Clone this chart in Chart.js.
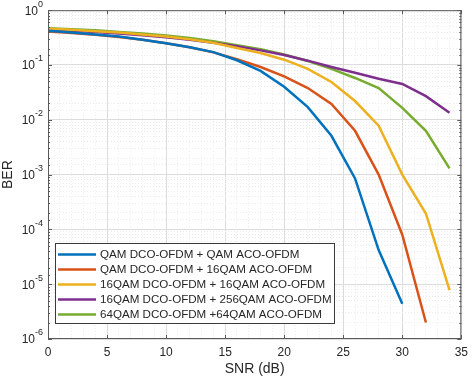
<!DOCTYPE html>
<html>
<head>
<meta charset="utf-8">
<script src="https://cdn.jsdelivr.net/npm/chart.js@4/dist/chart.umd.min.js"></script>
<style>
  html, body { margin: 0; padding: 0; background: #fff; }
  canvas { display: block; }
</style>
</head>
<body>
<canvas id="chart" width="474" height="381"></canvas>
<script>
// SNR sampling points (dB)
const snr = [0, 2, 4, 6, 8, 10, 12, 14, 16, 18, 20, 22, 24, 26, 28, 30, 32, 34];

// BER, one array per curve
const berQamQam      = [0.42, 0.39, 0.36, 0.33, 0.29, 0.25, 0.21, 0.172, 0.122, 0.078, 0.04, 0.017, 0.0051, 8.5e-4, 4.2e-5, 4.4e-6];
const berQam16       = [0.41, 0.385, 0.355, 0.325, 0.29, 0.25, 0.21, 0.17, 0.128, 0.092, 0.062, 0.038, 0.0195, 0.0063, 1.0e-3, 8e-5, 2e-6];
const ber16Qam16     = [0.46, 0.44, 0.415, 0.39, 0.36, 0.33, 0.295, 0.255, 0.205, 0.165, 0.125, 0.085, 0.049, 0.022, 0.0078, 1.0e-3, 1.95e-4, 7.8e-6];
const ber16Qam256    = [0.44, 0.42, 0.4, 0.375, 0.35, 0.32, 0.29, 0.255, 0.22, 0.185, 0.152, 0.12, 0.092, 0.072, 0.056, 0.045, 0.027, 0.0134];
const ber64Qam64     = [0.47, 0.45, 0.43, 0.4, 0.375, 0.345, 0.31, 0.27, 0.23, 0.195, 0.155, 0.118, 0.085, 0.058, 0.038, 0.0165, 0.0063, 1.3e-3];

const seriesNames = [
    'QAM DCO-OFDM + QAM ACO-OFDM',
    'QAM DCO-OFDM + 16QAM ACO-OFDM',
    '16QAM DCO-OFDM + 16QAM ACO-OFDM',
    '16QAM DCO-OFDM + 256QAM ACO-OFDM',
    '64QAM DCO-OFDM +64QAM ACO-OFDM'
];
const seriesColors = ['#0072BD', '#D95319', '#EDB120', '#7E2F8E', '#77AC30'];
const seriesValues = [berQamQam, berQam16, ber16Qam16, ber16Qam256, ber64Qam64];

// axis ticks
const xTicksMajor = [0, 5, 10, 15, 20, 25, 30, 35];
const yTickExps = [0, -1, -2, -3, -4, -5, -6];

const FONT = 'Arial, "Liberation Sans", Helvetica, sans-serif';
const AXIS_COLOR = '#262626';

function toPoints(vals) {
    return vals.map((v, i) => ({ x: snr[i], y: v }));
}

function isDecade(v) {
    const e = Math.log10(v);
    return Math.abs(e - Math.round(e)) < 1e-9;
}

// box, inward ticks, y labels with exponents, legend inside the axes
const decorPlugin = {
    id: 'decor',
    afterDraw(chart) {
        const ctx = chart.ctx;
        const a = chart.chartArea;
        const xs = chart.scales.x, ys = chart.scales.y;
        ctx.save();

        // frame
        ctx.strokeStyle = '#5a5a5a';
        ctx.lineWidth = 1;
        ctx.strokeRect(a.left + 0.5, a.top + 0.5, a.right - a.left - 1, a.bottom - a.top - 1);

        // inward ticks
        ctx.beginPath();
        xTicksMajor.forEach(v => {
            const px = Math.round(xs.getPixelForValue(v)) + 0.5;
            ctx.moveTo(px, a.bottom); ctx.lineTo(px, a.bottom - 4);
            ctx.moveTo(px, a.top); ctx.lineTo(px, a.top + 4);
        });
        ys.ticks.forEach(t => {
            const py = Math.round(ys.getPixelForValue(t.value)) + 0.5;
            const len = isDecade(t.value) ? 4 : 2;
            ctx.moveTo(a.left, py); ctx.lineTo(a.left + len, py);
            ctx.moveTo(a.right, py); ctx.lineTo(a.right - len, py);
        });
        ctx.stroke();

        // y tick labels 10^n
        ctx.fillStyle = AXIS_COLOR;
        ctx.textBaseline = 'middle';
        yTickExps.forEach(e => {
            const py = ys.getPixelForValue(Math.pow(10, e));
            const right = a.left - 5;
            ctx.font = '9px ' + FONT;
            ctx.textAlign = 'left';
            const expTxt = e === 0 ? '0' : '-' + Math.abs(e);
            const ew = ctx.measureText(expTxt).width;
            ctx.fillText(expTxt, right - ew, py - 6);
            ctx.font = '12px ' + FONT;
            ctx.textAlign = 'right';
            ctx.fillText('10', right - ew, py + 1);
        });

        // legend
        const lx = 55, ly = 243, lw = 279, lh = 80;
        ctx.fillStyle = '#fff';
        ctx.fillRect(lx, ly, lw, lh);
        ctx.strokeStyle = '#3a3a3a';
        ctx.lineWidth = 1;
        ctx.strokeRect(lx + 0.5, ly + 0.5, lw, lh);
        ctx.font = '11.6px ' + FONT;
        ctx.textAlign = 'left';
        ctx.textBaseline = 'middle';
        chart.data.datasets.forEach((ds, i) => {
            const ry = ly + 11.5 + i * 15;
            ctx.strokeStyle = ds.borderColor;
            ctx.lineWidth = 2.5;
            ctx.beginPath();
            ctx.moveTo(lx + 3, ry); ctx.lineTo(lx + 41, ry);
            ctx.stroke();
            ctx.fillStyle = AXIS_COLOR;
            ctx.fillText(ds.label, lx + 45, ry + 0.5);
        });

        ctx.restore();
    }
};

const datasets = seriesValues.map((vals, i) => ({
    label: seriesNames[i],
    data: toPoints(vals),
    borderColor: seriesColors[i],
    backgroundColor: seriesColors[i],
    borderWidth: 2.5,
    pointRadius: 0,
    tension: 0,
    fill: false
}));

new Chart(document.getElementById('chart'), {
    type: 'line',
    data: { datasets },
    options: {
        responsive: false,
        animation: false,
        layout: { padding: { top: 9, right: 8, left: 0, bottom: 0 } },
        plugins: { legend: { display: false }, tooltip: { enabled: false } },
        scales: {
            x: {
                type: 'linear',
                min: 0,
                max: 35,
                afterFit(s) { s.height = 42; },
                ticks: {
                    stepSize: 1,
                    autoSkip: false,
                    maxRotation: 0,
                    padding: 6,
                    color: AXIS_COLOR,
                    font: { family: FONT, size: 12 },
                    callback: v => (v % 5 === 0 ? String(v) : '')
                },
                grid: {
                    drawTicks: false,
                    color: c => (c.tick && c.tick.value % 5 === 0 ? '#dcdcdc' : '#ececec')
                },
                border: {
                    display: false,
                    dash: c => (c.tick && c.tick.value % 5 === 0 ? [] : [1, 2])
                },
                title: {
                    display: true,
                    text: 'SNR (dB)',
                    color: AXIS_COLOR,
                    font: { family: FONT, size: 14 },
                    padding: { top: 0, bottom: 3 }
                }
            },
            y: {
                type: 'logarithmic',
                min: 1e-6,
                max: 1,
                afterFit(s) { s.width = 48; },
                ticks: {
                    autoSkip: false,
                    callback: () => ''
                },
                grid: {
                    drawTicks: false,
                    color: c => (c.tick && isDecade(c.tick.value) ? '#dcdcdc' : '#ececec')
                },
                border: {
                    display: false,
                    dash: c => (c.tick && isDecade(c.tick.value) ? [] : [1, 2])
                },
                title: {
                    display: true,
                    text: 'BER',
                    color: AXIS_COLOR,
                    font: { family: FONT, size: 14 },
                    padding: { top: 0, bottom: 0 }
                }
            }
        }
    },
    plugins: [decorPlugin]
});
</script>
</body>
</html>
